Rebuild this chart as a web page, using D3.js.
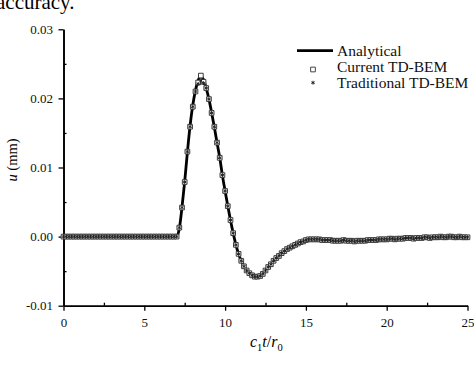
<!DOCTYPE html>
<html>
<head>
<meta charset="utf-8">
<script src="https://cdn.jsdelivr.net/npm/d3@7"></script>
<style>
  body { margin: 0; background: #fff; }
  svg { display: block; font-family: "Liberation Serif", "Times New Roman", serif; }
</style>
</head>
<body>
<svg id="chart" width="474" height="373"></svg>
<script>
// sample step of the numerical results (c1 t / r0)
const dt = 1 / 6

// Current TD-BEM, u (mm), one value per step from 0 to 25
const currentU = [
  0, 0, 0, 0, 0, 0, 0, 0, 0, 0, 0, 0, 0, 0, 0, 0, 0, 0, 0, 0,
  0, 0, 0, 0, 0, 0, 0, 0, 0, 0, 0, 0, 0, 0, 0, 0, 0, 0, 0, 0,
  0, 0, 0,
  0.0013, 0.0042, 0.0079, 0.0123, 0.0159, 0.0188, 0.0210, 0.0223, 0.0233, 0.0224,
  0.0215, 0.0199, 0.0179, 0.0159, 0.0136, 0.0114, 0.0089, 0.0066, 0.0044, 0.0024,
  0.0005, -0.0012, -0.0025, -0.0035, -0.0043, -0.0049, -0.0053, -0.0056, -0.0058, -0.0058,
  -0.0057, -0.0054, -0.0049, -0.0044, -0.0040, -0.0035, -0.0031, -0.0028, -0.0024, -0.0021,
  -0.0018, -0.0016, -0.0014, -0.0012, -0.0010, -0.0008, -0.0007, -0.0005,
  -0.0004, -0.0004, -0.0004, -0.0004, -0.0004, -0.0005, -0.0005, -0.0005, -0.0005,
  -0.0006, -0.0006, -0.0006, -0.0006, -0.0005, -0.0006, -0.0006, -0.0006, -0.0007, -0.0006,
  -0.0006, -0.0006, -0.0006, -0.0005, -0.0005, -0.0005, -0.0005, -0.0004,
  -0.0004, -0.0004, -0.0004, -0.0003, -0.0003, -0.0004, -0.0003, -0.0003, -0.0003, -0.0002,
  -0.0002, -0.0002, -0.0003, -0.0002, -0.0002,
  -0.0002, -0.0001, -0.0001, -0.0002, -0.0001, -0.0001, -0.0001, 0.0000, -0.0001, -0.0001,
  0.0000, 0.0000, -0.0001, -0.0001, 0.0000, -0.0001, -0.0001, -0.0001
]

// Traditional TD-BEM, u (mm), same steps
const traditionalU = [
  0, 0, 0, 0, 0, 0, 0, 0, 0, 0, 0, 0, 0, 0, 0, 0, 0, 0, 0, 0,
  0, 0, 0, 0, 0, 0, 0, 0, 0, 0, 0, 0, 0, 0, 0, 0, 0, 0, 0, 0,
  0, 0, 0,
  0.0013, 0.0042, 0.0079, 0.0123, 0.0159, 0.0188, 0.0210, 0.0221, 0.0226, 0.0222,
  0.0215, 0.0199, 0.0179, 0.0159, 0.0136, 0.0114, 0.0089, 0.0066, 0.0044, 0.0024,
  0.0005, -0.0012, -0.0025, -0.0035, -0.0043, -0.0049, -0.0053, -0.0056, -0.0058, -0.0058,
  -0.0057, -0.0054, -0.0049, -0.0044, -0.0040, -0.0035, -0.0031, -0.0028, -0.0024, -0.0021,
  -0.0018, -0.0016, -0.0014, -0.0012, -0.0010, -0.0008, -0.0007, -0.0005,
  -0.0004, -0.0004, -0.0004, -0.0004, -0.0004, -0.0005, -0.0005, -0.0005, -0.0005,
  -0.0006, -0.0006, -0.0006, -0.0006, -0.0005, -0.0006, -0.0006, -0.0006, -0.0007, -0.0006,
  -0.0006, -0.0006, -0.0006, -0.0005, -0.0005, -0.0005, -0.0005, -0.0004,
  -0.0004, -0.0004, -0.0004, -0.0003, -0.0003, -0.0004, -0.0003, -0.0003, -0.0003, -0.0002,
  -0.0002, -0.0002, -0.0003, -0.0002, -0.0002,
  -0.0002, -0.0001, -0.0001, -0.0002, -0.0001, -0.0001, -0.0001, 0.0000, -0.0001, -0.0001,
  0.0000, 0.0000, -0.0001, -0.0001, 0.0000, -0.0001, -0.0001, -0.0001
]

// Analytical solution, knots of the solid line
const analyticalT = [0, 7.0, 7.17, 7.33, 7.5, 7.67, 7.83, 8.0, 8.17, 8.33, 8.5, 8.67, 8.83,
  9.0, 9.17, 9.33, 9.5, 9.67, 9.83, 10.0, 10.17, 10.33, 10.5, 10.67, 10.83, 11.0, 11.17,
  11.33, 11.5, 11.67, 11.83, 12.0, 12.17, 12.33, 12.5, 12.67, 12.83, 13.0, 13.5, 14.0,
  14.5, 15.0, 16.0, 18.0, 20.0, 22.0, 25.0]
const analyticalU = [0, 0, 0.0012, 0.0042, 0.0080, 0.0123, 0.0160, 0.0190, 0.0212, 0.0226,
  0.0232, 0.0227, 0.0215, 0.0199, 0.0179, 0.0159, 0.0136, 0.0114, 0.0089, 0.0066, 0.0044,
  0.0024, 0.0005, -0.0012, -0.0025, -0.0035, -0.0043, -0.0049, -0.0053, -0.0056, -0.0058,
  -0.0058, -0.0057, -0.0054, -0.0049, -0.0044, -0.0040, -0.0035, -0.0024, -0.0016,
  -0.0010, -0.0005, -0.0004, -0.0006, -0.0004, -0.0002, -0.0001]

const xTicks = [0, 5, 10, 15, 20, 25]
const yTicks = [-0.01, 0.00, 0.01, 0.02, 0.03]
const legendLabels = ['Analytical', 'Current TD-BEM', 'Traditional TD-BEM']

const svg = d3.select('#chart')

const x = d3.scaleLinear().domain([0, 25]).range([63.5, 467.5])
const y = d3.scaleLinear().domain([-0.01, 0.03]).range([305.7, 29.3])

// cropped caption line above the figure
svg.append('text')
  .attr('x', -4).attr('y', 9)
  .attr('font-size', 21)
  .text('accuracy.')

// axes, major ticks outward, minor ticks inward
const xAxis = svg.append('g')
  .attr('transform', `translate(0,${y(-0.01)})`)
  .call(d3.axisBottom(x).tickValues(xTicks).tickSize(5).tickSizeOuter(0).tickFormat(d3.format('d')))
const xMinor = svg.append('g')
  .attr('transform', `translate(0,${y(-0.01)})`)
  .call(d3.axisBottom(x).tickValues([2.5, 7.5, 12.5, 17.5, 22.5]).tickSize(-3).tickSizeOuter(0).tickFormat(''))

const yAxis = svg.append('g')
  .attr('transform', `translate(${x(0)},0)`)
  .call(d3.axisLeft(y).tickValues(yTicks).tickSize(5).tickSizeOuter(0).tickFormat(d3.format('.2f')))
const yMinor = svg.append('g')
  .attr('transform', `translate(${x(0)},0)`)
  .call(d3.axisLeft(y).tickValues([-0.005, 0.005, 0.015, 0.025]).tickSize(-3).tickSizeOuter(0).tickFormat(''))

for (const g of [xAxis, yAxis, xMinor, yMinor]) {
  g.select('.domain').attr('stroke', '#000').attr('stroke-width', 1.6)
  g.selectAll('.tick line').attr('stroke', '#000').attr('stroke-width', 1.3)
  g.selectAll('.tick text')
    .attr('font-family', '"Liberation Serif", "Times New Roman", serif')
    .attr('font-size', 13)
    .attr('fill', '#111')
}
xAxis.selectAll('.tick text').attr('dy', '1.0em')
yAxis.selectAll('.tick text').attr('x', -10.5).text(d => d3.format('.2f')(d).replace('−', '-'))

// axis titles
const yTitle = svg.append('text')
  .attr('transform', 'translate(17,160) rotate(-90)')
  .attr('text-anchor', 'middle')
  .attr('font-size', 14.5)
yTitle.append('tspan').attr('font-style', 'italic').text('u')
yTitle.append('tspan').text(' (mm)')

const xTitle = svg.append('text')
  .attr('x', 250).attr('y', 347)
  .attr('font-size', 16)
xTitle.append('tspan').attr('font-style', 'italic').text('c')
xTitle.append('tspan').attr('font-size', 10.5).attr('dy', 4).text('1')
xTitle.append('tspan').attr('font-style', 'italic').attr('dy', -4).text('t')
xTitle.append('tspan').text('/')
xTitle.append('tspan').attr('font-style', 'italic').text('r')
xTitle.append('tspan').attr('font-size', 10.5).attr('dy', 4).text('0')

// analytical line
const analytical = analyticalT.map((t, i) => ({ t, u: analyticalU[i] }))
svg.append('path')
  .datum(analytical)
  .attr('fill', 'none')
  .attr('stroke', '#000')
  .attr('stroke-width', 2.8)
  .attr('d', d3.line().x(d => x(d.t)).y(d => y(d.u)).curve(d3.curveMonotoneX))

const squarePath = d3.symbol(d3.symbolSquare, 22)()
const starPath = d3.symbol(d3.symbolAsterisk, 10)()

// current TD-BEM: open squares
svg.append('g')
  .selectAll('path')
  .data(currentU)
  .join('path')
  .attr('transform', (u, i) => `translate(${x(i * dt)},${y(u)})`)
  .attr('d', squarePath)
  .attr('fill', '#fff')
  .attr('stroke', '#3a3a3a')
  .attr('stroke-width', 1)

// traditional TD-BEM: small stars
svg.append('g')
  .selectAll('path')
  .data(traditionalU)
  .join('path')
  .attr('transform', (u, i) => `translate(${x(i * dt)},${y(u)})`)
  .attr('d', starPath)
  .attr('fill', 'none')
  .attr('stroke', '#222')
  .attr('stroke-width', 1)

// legend
const legend = svg.append('g').attr('font-size', 15.5)
legend.append('line')
  .attr('x1', 297).attr('x2', 333).attr('y1', 50.7).attr('y2', 50.7)
  .attr('stroke', '#000').attr('stroke-width', 2.8)
legend.append('path')
  .attr('transform', 'translate(313,69.5)')
  .attr('d', squarePath)
  .attr('fill', '#fff').attr('stroke', '#444').attr('stroke-width', 1)
legend.append('path')
  .attr('transform', 'translate(313,82.7)')
  .attr('d', starPath)
  .attr('fill', 'none').attr('stroke', '#222').attr('stroke-width', 1)
legend.selectAll('text.lab')
  .data(legendLabels)
  .join('text')
  .attr('class', 'lab')
  .attr('x', 337)
  .attr('y', (d, i) => 55.5 + i * 16.2)
  .attr('fill', '#111')
  .text(d => d)
</script>
</body>
</html>
